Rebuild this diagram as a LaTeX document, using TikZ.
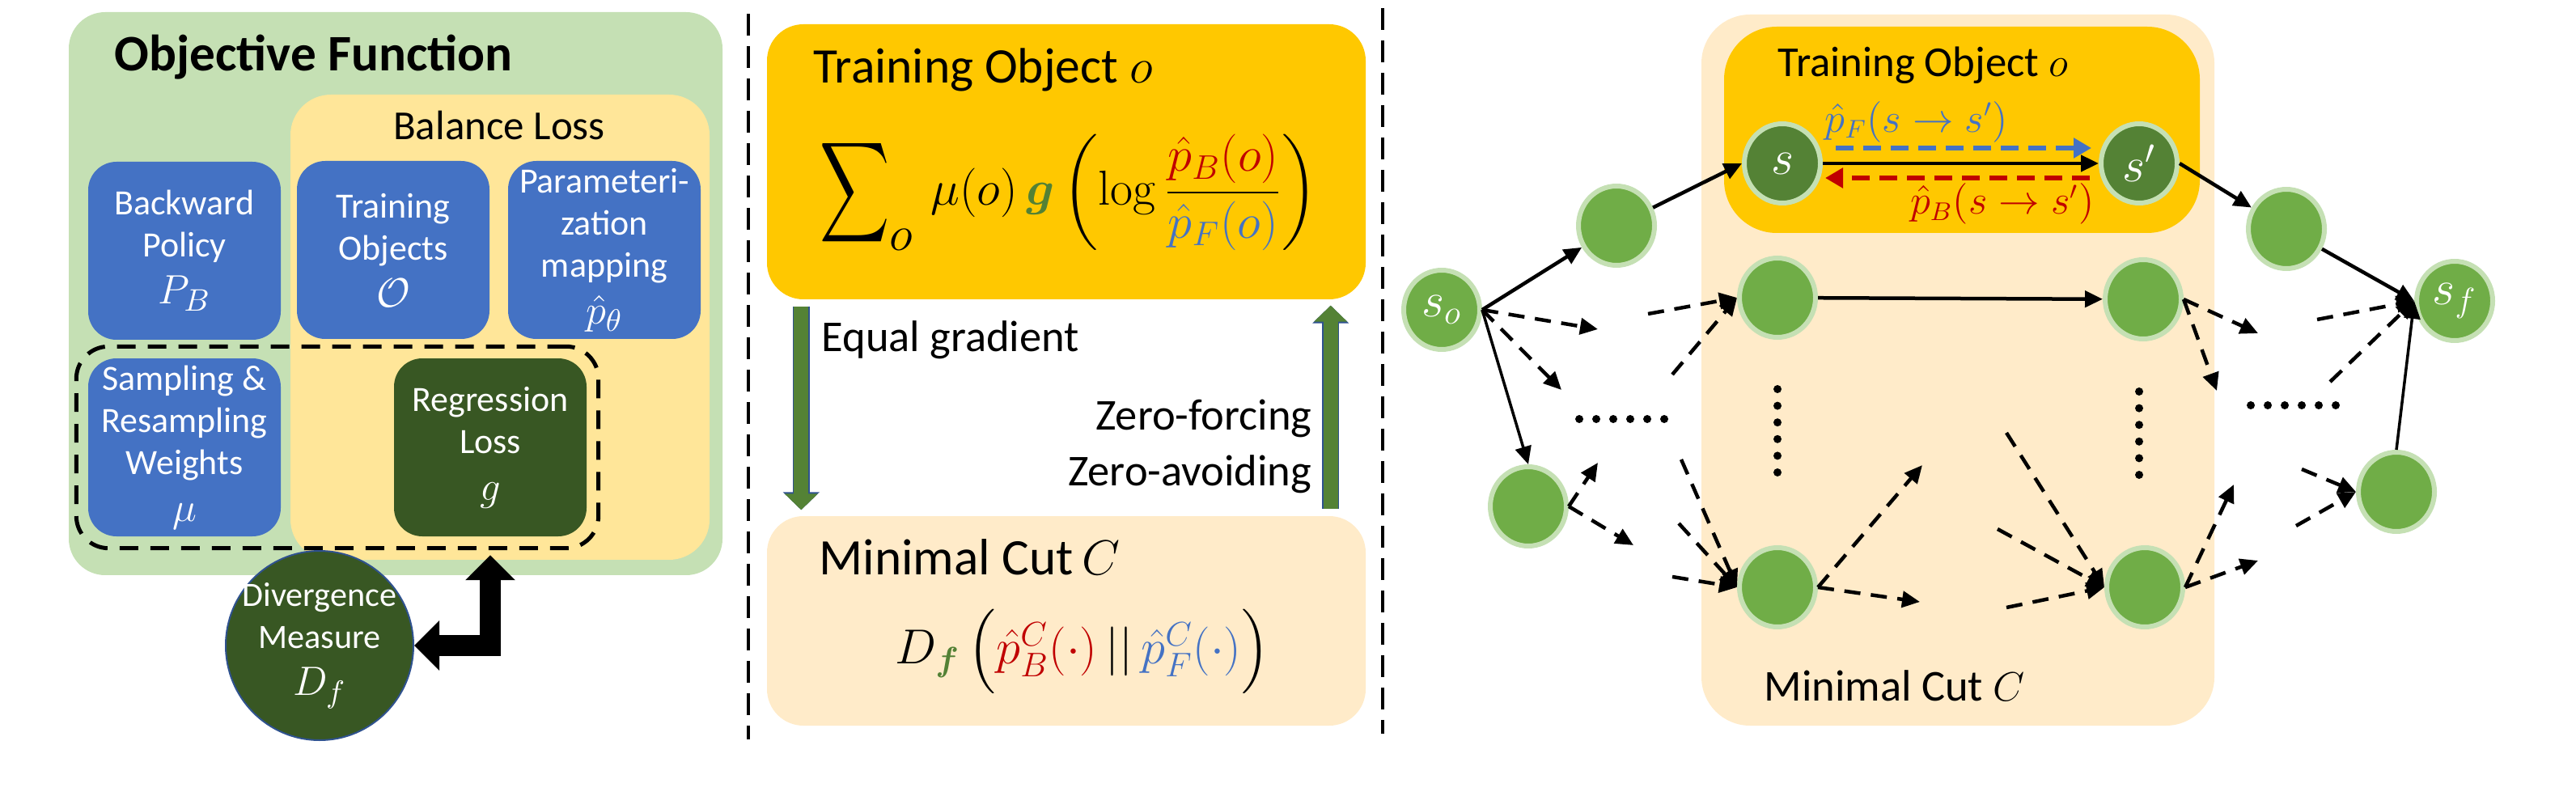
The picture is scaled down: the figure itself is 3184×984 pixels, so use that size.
\documentclass[tikz,border=0pt]{standalone}
\usepackage[no-math]{fontspec}
\setmainfont{Carlito}
\usepackage{amsmath,amssymb,bm}
\usepackage{graphicx}
\usetikzlibrary{arrows.meta,positioning,shapes.geometric,fit,calc}
\definecolor{ink}{HTML}{000000}
\definecolor{objgreen}{HTML}{C5E0B4}
\definecolor{balyellow}{HTML}{FFE699}
\definecolor{boxblue}{HTML}{4472C4}
\definecolor{darkgreen}{HTML}{385723}
\definecolor{gold}{HTML}{FFC800}
\definecolor{peach}{HTML}{FFEBC9}
\definecolor{nodegreen}{HTML}{70AD47}
\definecolor{nodedark}{HTML}{548235}
\definecolor{nodeedge}{HTML}{C5E0B4}
\definecolor{pred}{HTML}{C00000}
\definecolor{pblue}{HTML}{4472C4}
\definecolor{fgreen}{HTML}{538135}
\definecolor{edgeblue}{HTML}{2F528F}
\newcommand{\boxmath}[1]{{\fontsize{15}{15}\selectfont$#1$}}
\tikzset{
  panel/.style={rounded corners=4.5mm, inner sep=0pt, draw=none},
  greenpanel/.style={panel, fill=objgreen},
  yellowpanel/.style={panel, fill=balyellow},
  goldpanel/.style={panel, fill=gold},
  peachpanel/.style={panel, fill=peach},
  hdr/.style={anchor=base west, inner sep=0pt},
  block/.style={rounded corners=3.5mm, fill=boxblue, text=white, align=center, inner sep=0pt, minimum width=23.8mm, minimum height=22mm, font=\fontsize{12.5}{14.8}\selectfont},
  regbox/.style={block, fill=darkgreen},
  selbox/.style={draw=ink, rounded corners=4mm, line width=0.5mm, dash pattern=on 2.3mm off 1.5mm},
  diverg/.style={ellipse, fill=darkgreen, draw=edgeblue, line width=0.2mm, text=white, align=center, minimum width=23.2mm, minimum height=23.4mm, inner xsep=-1.8mm, inner ysep=0pt, font=\fontsize{12}{14.8}\selectfont},
  bigarrow/.style={line width=2.6mm, draw=ink, {Triangle[length=3.1mm,width=6mm]}-{Triangle[length=3.1mm,width=6mm]}},
  gradarrow/.style={line width=1.8mm, draw=nodedark, -{Triangle[length=2mm,width=4mm]}, preaction={draw=edgeblue, line width=2.05mm, -{Triangle[length=2.2mm,width=4.4mm]}}},
  sep/.style={line width=0.45mm, dash pattern=on 2.7mm off 1.3mm},
  state/.style={ellipse, fill=nodegreen, draw=nodeedge, line width=0.6mm, minimum width=9.4mm, minimum height=9.8mm, inner sep=0pt, text=white, font=\fontsize{17}{17}\selectfont},
  darkstate/.style={state, fill=nodedark},
  flow/.style={line width=0.45mm, draw=ink, -{Triangle[length=2.2mm,width=2mm]}},
  dflow/.style={flow, dash pattern=on 2mm off 1.3mm},
  fwdflow/.style={line width=0.6mm, draw=pblue, dash pattern=on 2.2mm off 1.2mm, -{Triangle[length=2.2mm,width=2.4mm]}},
  bwdflow/.style={line width=0.6mm, draw=pred, dash pattern=on 2.2mm off 1.2mm, -{Triangle[length=2.2mm,width=2.4mm]}}
}

\begin{document}
\begin{tikzpicture}[x=0.1mm, y=-0.1mm]
\useasboundingbox (0,0) rectangle (3184,984);
% objective function
\node[greenpanel, minimum width=80.8mm, minimum height=69.6mm] (objfun) at (489,363) {};
\node[yellowpanel, rounded corners=5mm, minimum width=51.8mm, minimum height=57.5mm] (balance) at (618,404.5) {};
\node[hdr, font=\bfseries\fontsize{18}{18}\selectfont] (objtitle) at (141,88) {Objective Function};
\node[anchor=base, inner sep=0pt, font=\fontsize{14.5}{14.5}\selectfont] (baltitle) at (617,173) {Balance Loss};
\node[block] (backward) at (228,310) {Backward\\Policy\\[0.6mm]\boxmath{P_B}};
\node[block] (objects) at (486,309) {Training\\Objects\\[0.6mm]\boxmath{\mathcal{O}}};
\node[block] (param) at (747,309) {Parameteri-\\zation\\mapping\\[0.6mm]\boxmath{\hat{p}_{\theta}}};
\node[block] (weights) at (228,553) {Sampling \&\\Resampling\\Weights\\[0.6mm]\boxmath{\mu}};
\node[regbox] (regress) at (606,553) {Regression\\Loss\\[0.6mm]\boxmath{g}};
\node[selbox, fit=(weights)(regress), inner sep=1.4mm] (sel) {};
\node[diverg] (diverg) at (395,798) {Divergence\\Measure\\[0.6mm]\boxmath{D_f}};
\draw[bigarrow] (diverg.east) -| ($(sel.south -| regress.south)+(0,6)$);

% separators
\draw[sep] (925,17) -- (925,914);
\draw[sep] (1709,10) -- (1709,907);

% training object and minimal cut
\node[goldpanel, minimum width=74mm, minimum height=34mm] (trainbox) at (1318,200) {};
\node[hdr, font=\fontsize{17.5}{17.5}\selectfont] (traintitle) at (1005,103) {Training Object $o$};
\node[inner sep=0pt, font=\fontsize{17}{17}\selectfont] (objective) at (1321,238) {$\mathop{\vcenter{\hbox{\scalebox{1}[1.45]{$\displaystyle\sum$}}}}\nolimits_{\textstyle o}\,\mu(o)\,\textcolor{fgreen}{\bm{g}}\left(\log\dfrac{\textcolor{pred}{\hat{p}_B(o)}}{\textcolor{pblue}{\hat{p}_F(o)}}\right)$};
\node[peachpanel, minimum width=74mm, minimum height=25.9mm] (cutbox) at (1318,767.5) {};
\node[hdr, font=\fontsize{18}{18}\selectfont] (cuttitle) at (1012,710) {Minimal Cut\,$C$};
\node[inner sep=0pt, font=\fontsize{16.5}{16.5}\selectfont] (divform) at (1338,805) {$D_{\textcolor{fgreen}{\bm{f}}}\,\Big(\textcolor{pred}{\hat{p}_B^C(\cdot)}\,||\,\textcolor{pblue}{\hat{p}_F^C(\cdot)}\Big)$};
\draw[gradarrow, shorten <=0.8mm, shorten >=0.7mm] ([xshift=4.3mm]trainbox.south west) -- ([xshift=4.3mm]cutbox.north west);
\draw[gradarrow, shorten <=0.8mm, shorten >=0.7mm] ([xshift=-4.4mm]cutbox.north east) -- ([xshift=-4.4mm]trainbox.south east);
\node[anchor=west, inner sep=0pt, font=\fontsize{15.5}{15.5}\selectfont] (eqgrad) at (1015,420) {Equal gradient};
\node[anchor=east, align=right, inner sep=0pt, font=\fontsize{15.5}{19.6}\selectfont] (zero) at (1622,552) {Zero-forcing\\Zero-avoiding};

% flow network
\node[peachpanel, rounded corners=6mm, minimum width=63.4mm, minimum height=87.9mm] (cutregion) at (2420,457.5) {};
\node[goldpanel, rounded corners=6.5mm, minimum width=58.8mm, minimum height=25.5mm] (objregion) at (2425,160.5) {};
\node[hdr, font=\fontsize{15}{15}\selectfont] (objlabel) at (2197,95) {Training Object $o$};
\node[hdr, font=\fontsize{15.5}{15.5}\selectfont] (cutlabel) at (2180,866) {Minimal Cut $C$};

\node[state] (s0) at (1782,383) {$s_o$};
\node[state] (n1) at (1998,279) {};
\node[darkstate] (s) at (2203,202) {$s$};
\node[darkstate] (sp) at (2644,202) {$s'$};
\node[state] (n3) at (2826,283) {};
\node[state] (sf) at (3034,372) {$s_f$};
\node[state] (m1) at (2197,368) {};
\node[state] (m2) at (2649,370) {};
\node[state] (l1) at (1889,626) {};
\node[state] (l2) at (2197,726) {};
\node[state] (l3) at (2651,726) {};
\node[state] (r1) at (2962,608) {};

\coordinate (d1) at (1975,407);
\coordinate (d2) at (1930,482);
\coordinate (d3) at (2037,388);
\coordinate (d4) at (2067,463);
\coordinate (d5) at (1975,572);
\coordinate (d6) at (2019,674);
\coordinate (d7) at (2078,568);
\coordinate (d8) at (2075,647);
\coordinate (d9) at (2067,713);
\coordinate (d10) at (2376,575);
\coordinate (d11) at (2373,744);
\coordinate (d12) at (2791,412);
\coordinate (d13) at (2740,483);
\coordinate (d14) at (2864,395);
\coordinate (d15) at (2880,472);
\coordinate (d16) at (2480,535);
\coordinate (d17) at (2469,654);
\coordinate (d18) at (2480,751);
\coordinate (d19) at (2761,599);
\coordinate (d20) at (2791,693);
\coordinate (d21) at (2845,580);
\coordinate (d22) at (2838,650);

\draw[flow] (s0.east) -- (n1);
\draw[flow] (n1) -- (s.west);
\draw[flow] (s) -- (sp);
\draw[flow] (sp.east) -- (n3);
\draw[flow] (n3) -- (sf.west);
\draw[flow, line width=0.35mm] (s0.east) -- (l1.north);
\draw[flow] (m1) -- (m2);
\draw[flow, line width=0.35mm] (r1.north) -- (sf.west);
\draw[fwdflow, shorten <=1.6mm, shorten >=0.9mm] ([yshift=1.9mm]s.east) -- node[above=0.4mm, pos=0.34, inner sep=0pt, text=pblue, font=\fontsize{13.5}{13.5}\selectfont] (fwdlabel) {$\hat{p}_F(s\to s')$} ([yshift=1.9mm]sp.west);
\draw[bwdflow, shorten <=1.1mm, shorten >=0.3mm] ([yshift=-1.8mm]sp.west) -- node[below=0.4mm, pos=0.35, inner sep=0pt, text=pred, font=\fontsize{13.5}{13.5}\selectfont] (bwdlabel) {$\hat{p}_B(s\to s')$} ([yshift=-1.8mm]s.east);

\foreach \e in {d1,d2} \draw[dflow] (s0.east) -- (\e);
\foreach \e in {d3,d4} \draw[dflow] (\e) -- (m1.west);
\foreach \e in {d5,d6} \draw[dflow] (l1.east) -- (\e);
\foreach \e in {d7,d8,d9} \draw[dflow] (\e) -- (l2.west);
\foreach \e in {d10,d11} \draw[dflow] (l2.east) -- (\e);
\foreach \e in {d12,d13} \draw[dflow] (m2.east) -- (\e);
\foreach \e in {d14,d15} \draw[dflow] (\e) -- (sf.west);
\foreach \e in {d16,d17,d18} \draw[dflow] (\e) -- (l3.west);
\foreach \e in {d19,d20} \draw[dflow] (l3.east) -- (\e);
\foreach \e in {d21,d22} \draw[dflow] (\e) -- (r1.west);

% dots
\foreach \i in {0,...,5} {
  \fill (1952+21*\i,518) circle (0.5mm);
  \fill (2782+21*\i,501) circle (0.5mm);
  \fill (2197,481+20.6*\i) circle (0.5mm);
  \fill (2644,484+20.6*\i) circle (0.5mm);
}
\end{tikzpicture}
\end{document}
